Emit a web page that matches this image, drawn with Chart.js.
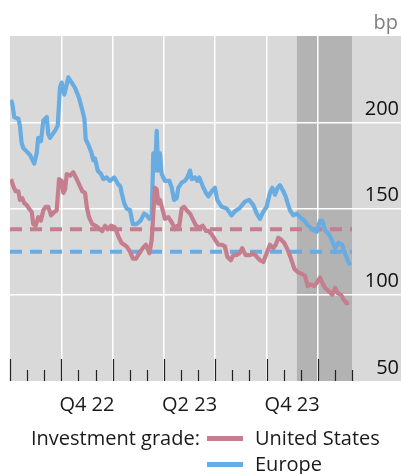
<!DOCTYPE html>
<html>
<head>
<meta charset="utf-8">
<script src="https://cdn.jsdelivr.net/npm/chart.js@4.4.1/dist/chart.umd.min.js"></script>
<style>
  html, body { margin: 0; padding: 0; background: #fff; }
  #wrap { position: relative; width: 401px; height: 474px; font-family: "Open Sans", sans-serif; }
  .txt { position: absolute; font-size: 20px; line-height: 26px; color: #1a1a1a; white-space: nowrap; }
  .unit { position: absolute; right: 3px; top: 9px; font-size: 20px; line-height: 26px; color: #808080; }
  .swatch { position: absolute; width: 36px; height: 5px; }
</style>
</head>
<body>
<div id="wrap">
  <canvas id="myChart"></canvas>
  <div class="unit">bp</div>
  <div class="txt" style="left:31px; top:425px;">Investment grade:</div>
  <div class="swatch" style="left:207px; top:436px; background:rgb(196,126,141);"></div>
  <div class="txt" style="left:255px; top:425px;">United States</div>
  <div class="swatch" style="left:207px; top:462px; background:rgb(104,172,226);"></div>
  <div class="txt" style="left:255px; top:451px;">Europe</div>
</div>
<script>
// x values are months since 1 Jul 2022
var usX = [0.06, 0.19, 0.33, 0.49, 0.58, 0.72, 0.84, 0.98, 1.11, 1.27, 1.36, 1.50, 1.65, 1.81, 1.95, 2.09, 2.24, 2.40, 2.59, 2.73,
  2.87, 3.02, 3.12, 3.22, 3.32, 3.51, 3.70, 3.90, 4.09, 4.23, 4.39, 4.49, 4.62, 4.81, 5.01, 5.26, 5.40, 5.56, 5.71, 5.91,
  6.14, 6.33, 6.53, 6.68, 6.82, 7.02, 7.18, 7.37, 7.56, 7.76, 7.95, 8.15, 8.29, 8.38, 8.48, 8.58, 8.67, 8.77, 8.93, 9.06,
  9.26, 9.46, 9.65, 9.78, 9.90, 10.04, 10.18, 10.33, 10.53, 10.68, 10.88, 11.07, 11.27, 11.46, 11.60, 11.80, 11.99, 12.18, 12.38, 12.57,
  12.71, 12.91, 13.06, 13.26, 13.41, 13.58, 13.78, 14.04, 14.23, 14.43, 14.62, 14.81, 15.01, 15.20, 15.40, 15.54, 15.69, 15.85, 16.04, 16.24,
  16.43, 16.63, 16.86, 17.09, 17.25, 17.41, 17.60, 17.80, 17.94, 18.13, 18.26, 18.42, 18.65, 18.85, 19.01, 19.16, 19.36, 19.49, 19.69, 19.82];
var usY = [167, 163, 160, 160, 155, 156, 153, 152, 150, 148, 141, 140, 145, 143, 149, 151, 151, 146, 148, 149,
  167, 166, 159, 161, 170, 169, 171, 167, 163, 160, 159, 151, 145, 141, 140, 138, 137, 140, 138, 140,
  139, 134, 130, 129, 128, 125, 121, 121, 124, 127, 129, 124, 132, 147, 162, 161, 153, 155, 149, 144,
  145, 142, 138, 140, 140, 150, 151, 149, 147, 144, 140, 139, 140, 137, 137, 135, 132, 129, 129, 128,
  122, 120, 123, 123, 124, 127, 123, 123, 124, 122, 120, 119, 124, 129, 127, 129, 133, 132, 130, 126,
  121, 115, 113, 112, 111, 105, 106, 105, 107, 110, 107, 104, 102, 100, 104, 101, 100, 97.5, 95, 95.5];

var euX = [0.06, 0.13, 0.25, 0.49, 0.58, 0.68, 0.78, 0.98, 1.17, 1.42, 1.56, 1.65, 1.81, 1.95, 2.15, 2.24, 2.34, 2.63, 2.79, 2.92,
  3.02, 3.18, 3.27, 3.41, 3.61, 3.80, 4.04, 4.23, 4.35, 4.43, 4.58, 4.74, 4.87, 4.97, 5.13, 5.32, 5.46, 5.65, 5.85, 6.10,
  6.33, 6.45, 6.53, 6.68, 6.82, 7.02, 7.18, 7.41, 7.64, 7.84, 8.00, 8.15, 8.29, 8.38, 8.48, 8.58, 8.67, 8.77, 8.87, 9.06,
  9.32, 9.46, 9.59, 9.75, 9.84, 10.04, 10.23, 10.37, 10.53, 10.63, 10.82, 10.95, 11.07, 11.27, 11.46, 11.60, 11.80, 11.99, 12.12, 12.38,
  12.67, 12.96, 13.16, 13.41, 13.74, 13.98, 14.23, 14.43, 14.62, 14.81, 15.01, 15.20, 15.34, 15.50, 15.65, 15.79, 15.98, 16.12, 16.24, 16.37,
  16.57, 16.77, 16.96, 17.21, 17.44, 17.74, 17.94, 18.13, 18.26, 18.42, 18.65, 18.81, 19.01, 19.20, 19.43, 19.59, 19.75, 19.88];
var euY = [213, 211, 203, 202, 198, 188, 185, 183, 181, 176, 182, 191, 189, 201, 203, 193, 191, 195, 198, 220,
  223, 216, 220, 226, 223, 220, 214, 207, 202, 190, 187, 183, 178, 179, 172, 170, 167, 168, 166, 168,
  164, 163, 159, 153, 150, 149, 141, 141, 143, 147, 146, 144, 146, 182, 172, 195, 172, 182, 170, 166,
  166, 162, 155, 156, 162, 165, 166, 168, 172, 167, 168, 166, 168, 163, 159, 157, 160, 162, 155, 151,
  150, 146, 148.5, 150, 154, 155, 152, 147, 144, 148, 151, 159, 162, 158, 162, 163.5, 160, 157, 153, 149,
  146, 147, 145, 143, 140, 137.5, 136.5, 143, 143, 137.5, 135, 132, 127, 130, 129, 124, 120, 117];

var usAverage = 138;
var euAverage = 125;
var spanX = [0, 20];

var monthTicks = [0, 1, 2, 3, 4, 5, 6, 7, 8, 9, 10, 11, 12, 13, 14, 15, 16, 17, 18, 19, 20];
var quarterMid = [4.5, 10.5, 16.5];
var quarterLabels = ['Q4 22', 'Q2 23', 'Q4 23'];
var yTicks = [50, 100, 150, 200];
var shadeFrom = 16.78, shadeTo = 20;

var usColor = 'rgb(196, 126, 141)';
var euColor = 'rgb(104, 172, 226)';

function toPoints(xs, ys) {
    return xs.map(function(x, i) { return { x: x, y: ys[i] }; });
}

var backdrop = {
    id: 'backdrop',
    beforeDraw: function(chart) {
        var c = chart.ctx, a = chart.chartArea, xs = chart.scales.x;
        c.save();
        c.fillStyle = '#d9d9d9';
        c.fillRect(a.left, a.top, chart.width - a.left, a.bottom - a.top);
        var x0 = xs.getPixelForValue(shadeFrom), x1 = xs.getPixelForValue(shadeTo);
        c.fillStyle = '#b3b3b3';
        c.fillRect(x0, a.top, x1 - x0, a.bottom - a.top);
        c.restore();
    },
    afterDraw: function(chart) {
        // month tick marks pointing up from the bottom
        var c = chart.ctx, a = chart.chartArea, xs = chart.scales.x;
        c.save();
        c.strokeStyle = '#222';
        c.lineWidth = 1.2;
        monthTicks.forEach(function(m) {
            var px = Math.round(xs.getPixelForValue(m)) + 0.5;
            var len = m % 3 === 0 ? 22 : 11;
            c.beginPath();
            c.moveTo(px, a.bottom);
            c.lineTo(px, a.bottom - len);
            c.stroke();
        });
        c.restore();
    }
};

Chart.defaults.font.family = '"Open Sans", sans-serif';
Chart.defaults.font.size = 20;
Chart.defaults.color = '#1a1a1a';

var ctx = document.getElementById('myChart').getContext('2d');
var myChart = new Chart(ctx, {
    type: 'line',
    data: {
        datasets: [
            {
                label: 'United States',
                data: toPoints(usX, usY),
                borderColor: usColor,
                borderWidth: 4.2
            },
            {
                label: 'Europe',
                data: toPoints(euX, euY),
                borderColor: euColor,
                borderWidth: 4.2
            },
            {
                label: 'US average',
                data: toPoints(spanX, [usAverage, usAverage]),
                borderColor: usColor,
                borderWidth: 4,
                borderDash: [12, 8]
            },
            {
                label: 'Europe average',
                data: toPoints(spanX, [euAverage, euAverage]),
                borderColor: euColor,
                borderWidth: 4,
                borderDash: [12, 8]
            }
        ]
    },
    options: {
        responsive: true,
        maintainAspectRatio: false,
        animation: false,
        layout: { padding: { left: 10, top: 36, right: 2, bottom: 48 } },
        elements: {
            point: { radius: 0 },
            line: { tension: 0, borderJoinStyle: 'round', borderCapStyle: 'butt' }
        },
        scales: {
            x: {
                type: 'linear',
                min: 0,
                max: 20,
                afterBuildTicks: function(scale) {
                    scale.ticks = monthTicks.concat(quarterMid).sort(function(a, b) { return a - b; })
                        .map(function(v) { return { value: v }; });
                },
                afterFit: function(scale) { scale.height = 45; },
                grid: {
                    drawTicks: false,
                    lineWidth: 1.5,
                    color: function(c) {
                        var v = c.tick ? c.tick.value : -1;
                        return (v > 0 && v % 3 === 0) ? '#ffffff' : 'rgba(0,0,0,0)';
                    }
                },
                border: { display: false },
                ticks: {
                    autoSkip: false,
                    maxRotation: 0,
                    padding: 8,
                    font: { lineHeight: 1.6 },
                    callback: function(v) {
                        var i = quarterMid.indexOf(v);
                        return i >= 0 ? quarterLabels[i] : '';
                    }
                }
            },
            y: {
                position: 'right',
                min: 50,
                max: 250,
                afterBuildTicks: function(scale) {
                    scale.ticks = yTicks.map(function(v) { return { value: v }; });
                },
                afterFit: function(scale) { scale.width = 47; },
                grid: {
                    lineWidth: 1.5,
                    tickLength: 49,
                    color: function(c) {
                        return c.tick && c.tick.value > 50 ? '#ffffff' : 'rgba(0,0,0,0)';
                    }
                },
                border: { display: false },
                ticks: {
                    crossAlign: 'far',
                    padding: -36,
                    labelOffset: -13,
                    color: '#111'
                }
            }
        },
        plugins: {
            legend: { display: false },
            tooltip: { enabled: false }
        }
    },
    plugins: [backdrop]
});
</script>
</body>
</html>
